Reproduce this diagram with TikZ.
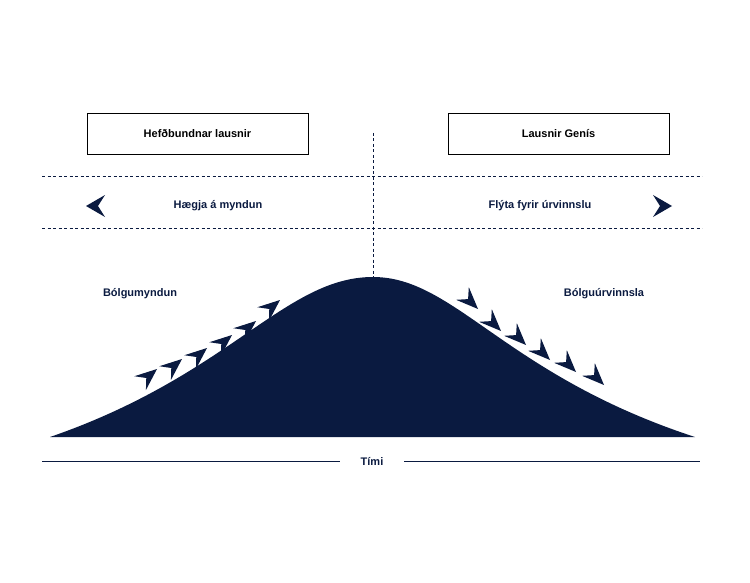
\documentclass[tikz,border=0pt]{standalone}
\usepackage{fontspec}
\setmainfont{Liberation Sans}
\usetikzlibrary{positioning}
\definecolor{navy}{HTML}{0A1A40}
\tikzset{box/.style={draw,thin,minimum width=221pt,minimum height=41pt,font=\fontsize{11}{13}\selectfont\bfseries},
lbl/.style={font=\fontsize{11}{13}\selectfont\bfseries,text=navy}}
% chevron: tip x, tip y, angle (picture coords), length, half width, notch depth
\newcommand{\chevron}[6]{%
  \pgfmathsetmacro{\cc}{cos(#3)}\pgfmathsetmacro{\ss}{sin(#3)}%
  \fill[navy] (#1,#2) -- ({#1-#4*\cc-#5*\ss},{#2-#4*\ss+#5*\cc})
    -- ({#1-#6*\cc},{#2-#6*\ss})
    -- ({#1-#4*\cc+#5*\ss},{#2-#4*\ss-#5*\cc}) -- cycle;}

\begin{document}
\begin{tikzpicture}[x=1pt,y=-1pt,dsh/.style={navy,thin,dash pattern=on 3pt off 2.5pt}]
			\useasboundingbox (0,0) rectangle (750,583);
			\node[box] (old) at (197.5,133.5) {Hefðbundnar lausnir};
			\node[box] (gen) at (558.5,133.5) {Lausnir Genís};

			\coordinate (top) at (373,133);
			\coordinate (bot) at (373,278);
			\draw[dsh] (top) -- (bot);
			\draw[dsh] (42,176) -- (702,176);
			\draw[dsh] (42,228) -- (702,228);

			\node[lbl] (slow) at (218,206) {Hægja á myndun};
			\node[lbl] (fast) at (540,206) {Flýta fyrir úrvinnslu};
			\chevron{86}{206}{180}{19}{11}{12}
			\chevron{672}{206}{0}{19}{11}{12}

			\node[lbl] (infl) at (140,294) {Bólgumyndun};
			\node[lbl] (res) at (604,294) {Bólguúrvinnsla};

			% bell curve
			\fill[navy] (50,437) .. controls (230,375) and (285,277) .. (373,277)
				.. controls (455,277) and (505,375) .. (695,437) -- cycle;

			\foreach \x/\y in {157/369,182/359,207/348,232/335,256/321,280/300}
				{\chevron{\x}{\y}{-40}{22}{9}{14}}
			\foreach \x/\y in {478/309,501/331,526/345,550/360,576/372,604/385}
				{\chevron{\x}{\y}{45}{22}{9}{14}}

			\node[lbl] (time) at (372,461) {Tími};
			\coordinate (t0) at (42,461);
			\coordinate (t1) at (700,461);
			\draw[navy,thin] (t0) -- (340,461);
			\draw[navy,thin] (404,461) -- (t1);
\end{tikzpicture}
\end{document}
